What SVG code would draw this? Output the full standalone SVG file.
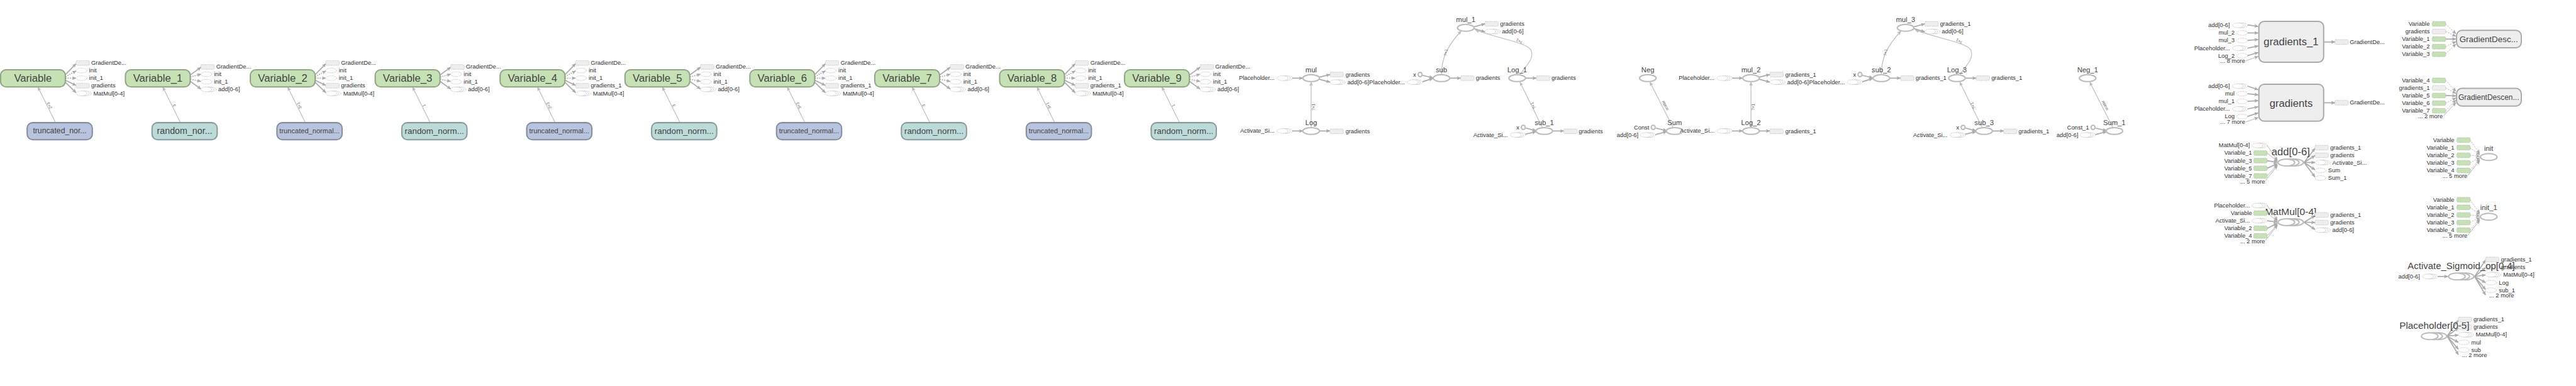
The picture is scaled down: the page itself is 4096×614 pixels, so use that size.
<svg xmlns="http://www.w3.org/2000/svg" width="4096" height="614" viewBox="0 0 4096 614">
<style>
text{font-family:"Liberation Sans",Arial,sans-serif;fill:#444;dominant-baseline:central}
.s{font-size:16.3px;fill:#333}
.e{text-anchor:end}
.c{text-anchor:middle}
.big{font-size:29px}
.op{font-size:19.5px}
.lab{font-size:11px;fill:#666;text-anchor:middle}
.var{fill:#c6e2b5;stroke:#8fa583;stroke-width:3.5}
.tr{fill:#b8c4dd;stroke:#848c9e;stroke-width:3.5}
.rn{fill:#bbdad8;stroke:#869b9a;stroke-width:3.5}
.gr{fill:#eee;stroke:#aaa;stroke-width:3.5}
.o{fill:#fff;stroke:#bbb;stroke-width:3.5}
.an{stroke:#bbb;stroke-width:1.5;stroke-dasharray:2.5 2}
.anw{fill:#fff}
.ang{fill:#eee}
.ang2{fill:#c6e2b5;stroke:#9fb79a}
.k{fill:none;stroke:#aaa;stroke-width:3;marker-end:url(#arrow)}
.d{stroke-dasharray:3 3}
.t{fill:none;stroke:#bbb;stroke-width:2;marker-end:url(#arrow2)}
.n{fill:none;stroke:#aaa;stroke-width:1.5;marker-end:url(#arrow)}
.ds{stroke-width:1.5;stroke-dasharray:4 3}
</style>
<defs>
<marker id="arrow" viewBox="0 0 12 10" refX="10.5" refY="5" markerWidth="12" markerHeight="10" markerUnits="userSpaceOnUse" orient="auto"><path d="M0,0 L12,5 L0,10 L2.5,5 z" fill="#aaa"/></marker>
<marker id="arrow2" viewBox="0 0 12 10" refX="10.5" refY="5" markerWidth="12" markerHeight="10" markerUnits="userSpaceOnUse" orient="auto"><path d="M0,0 L12,5 L0,10 L2.5,5 z" fill="#bbb"/></marker>
<rect id="a-rect" class="an ang" x="0" y="-6.5" width="37" height="13" rx="3"/>
<rect id="a-green" class="an ang2" x="0" y="-6.5" width="37" height="13" rx="3"/>
<ellipse id="a-ell" class="an anw" cx="15" cy="0" rx="15" ry="6.5"/>
<g id="a-ser"><ellipse class="an anw" cx="27" cy="0" rx="15" ry="6.5"/><ellipse class="an anw" cx="21" cy="0" rx="15" ry="6.5"/><ellipse class="an anw" cx="15" cy="0" rx="15" ry="6.5"/></g>
<ellipse id="op" class="o" cx="0" cy="0" rx="23" ry="9.5"/>
<ellipse id="op-c" class="o" cx="0" cy="0" rx="5.5" ry="6"/>
<g id="op-s"><ellipse class="o" cx="24" cy="0" rx="23" ry="9.5"/><ellipse class="o" cx="12" cy="0" rx="23" ry="9.5"/><ellipse class="o" cx="0" cy="0" rx="23" ry="9.5"/></g>
</defs>
<g transform="scale(0.5756)">
<g id="connectors">
<g transform="translate(0 0)"><path class="k" d="M181,206L210,176"/><path class="k d" d="M181,212L210,196"/><path class="k d" d="M181,216L210,216"/><path class="k" d="M181,222L210,236"/><path class="k" d="M181,228L210,256"/><path class="t" d="M153,338L105,241"/><text class="lab" transform="translate(136 292) rotate(-116)">2×3</text></g>
<g transform="translate(345 0)"><path class="k" d="M181,207L210,186"/><path class="k d" d="M181,213L210,205"/><path class="k d" d="M181,219L210,225"/><path class="k" d="M181,225L210,246"/><path class="t" d="M153,338L105,241"/><text class="lab" transform="translate(136 292) rotate(-116)">3</text></g>
<g transform="translate(690 0)"><path class="k" d="M181,206L210,176"/><path class="k d" d="M181,212L210,196"/><path class="k d" d="M181,216L210,216"/><path class="k" d="M181,222L210,236"/><path class="k" d="M181,228L210,256"/><path class="t" d="M153,338L105,241"/><text class="lab" transform="translate(136 292) rotate(-116)">3×1</text></g>
<g transform="translate(1035 0)"><path class="k" d="M181,207L210,186"/><path class="k d" d="M181,213L210,205"/><path class="k d" d="M181,219L210,225"/><path class="k" d="M181,225L210,246"/><path class="t" d="M153,338L105,241"/><text class="lab" transform="translate(136 292) rotate(-116)">1</text></g>
<g transform="translate(1380 0)"><path class="k" d="M181,206L210,176"/><path class="k d" d="M181,212L210,196"/><path class="k d" d="M181,216L210,216"/><path class="k" d="M181,222L210,236"/><path class="k" d="M181,228L210,256"/><path class="t" d="M153,338L105,241"/><text class="lab" transform="translate(136 292) rotate(-116)">2×3</text></g>
<g transform="translate(1725 0)"><path class="k" d="M181,207L210,186"/><path class="k d" d="M181,213L210,205"/><path class="k d" d="M181,219L210,225"/><path class="k" d="M181,225L210,246"/><path class="t" d="M153,338L105,241"/><text class="lab" transform="translate(136 292) rotate(-116)">3</text></g>
<g transform="translate(2070 0)"><path class="k" d="M181,206L210,176"/><path class="k d" d="M181,212L210,196"/><path class="k d" d="M181,216L210,216"/><path class="k" d="M181,222L210,236"/><path class="k" d="M181,228L210,256"/><path class="t" d="M153,338L105,241"/><text class="lab" transform="translate(136 292) rotate(-116)">3×3</text></g>
<g transform="translate(2415 0)"><path class="k" d="M181,207L210,186"/><path class="k d" d="M181,213L210,205"/><path class="k d" d="M181,219L210,225"/><path class="k" d="M181,225L210,246"/><path class="t" d="M153,338L105,241"/><text class="lab" transform="translate(136 292) rotate(-116)">3</text></g>
<g transform="translate(2760 0)"><path class="k" d="M181,206L210,176"/><path class="k d" d="M181,212L210,196"/><path class="k d" d="M181,216L210,216"/><path class="k" d="M181,222L210,236"/><path class="k" d="M181,228L210,256"/><path class="t" d="M153,338L105,241"/><text class="lab" transform="translate(136 292) rotate(-116)">3×1</text></g>
<g transform="translate(3105 0)"><path class="k" d="M181,207L210,186"/><path class="k d" d="M181,213L210,205"/><path class="k d" d="M181,219L210,225"/><path class="k" d="M181,225L210,246"/><path class="t" d="M153,338L105,241"/><text class="lab" transform="translate(136 292) rotate(-116)">1</text></g>
<g>
<path class="k" d="M3569,216L3599,216"/><path class="k" d="M3645,213L3674,206"/><path class="k" d="M3645,219L3674,227"/><path class="k" d="M3569,362L3599,362"/><path class="k" d="M3645,362L3674,362"/><path class="t" d="M3622,352L3622,227"/><text class="lab" transform="translate(3628 296) rotate(-90)">?×1</text>
<path class="k" d="M3929,208L3958,215"/><path class="k" d="M3929,226L3958,217"/><path class="k" d="M4006,216L4035,216"/><path class="k" d="M4072,74L4102,66"/><path class="k" d="M4072,79L4102,88"/>
<path class="t" d="M3982,206C3982,165 3995,130 4036,86"/><text class="lab" transform="translate(3993 145) rotate(-80)">?×1</text>
<path class="t" d="M4200,206C4215,180 4238,165 4230,140C4222,118 4150,110 4076,83"/><text class="lab" transform="translate(4197 114) rotate(-153)">?×1</text>
<path class="k" d="M4214,216L4244,216"/><path class="k" d="M4215,354L4243,361"/><path class="k" d="M4213,371L4243,364"/><path class="k" d="M4290,362L4320,362"/><path class="t" d="M4261,353L4199,227"/><text class="lab" transform="translate(4235 292) rotate(-116)">?×1</text>
<path class="k" d="M4574,354L4604,361"/><path class="k" d="M4573,372L4604,364"/><path class="t" d="M4622,353L4558,227"/><text class="lab" transform="translate(4599 292) rotate(-116)">scalar</text>
</g>
<g transform="translate(1215 0)">
<path class="k" d="M3569,216L3599,216"/><path class="k" d="M3645,213L3674,206"/><path class="k" d="M3645,219L3674,227"/><path class="k" d="M3569,362L3599,362"/><path class="k" d="M3645,362L3674,362"/><path class="t" d="M3622,352L3622,227"/><text class="lab" transform="translate(3628 296) rotate(-90)">?×1</text>
<path class="k" d="M3929,208L3958,215"/><path class="k" d="M3929,226L3958,217"/><path class="k" d="M4006,216L4035,216"/><path class="k" d="M4072,74L4102,66"/><path class="k" d="M4072,79L4102,88"/>
<path class="t" d="M3982,206C3982,165 3995,130 4036,86"/><text class="lab" transform="translate(3993 145) rotate(-80)">?×1</text>
<path class="t" d="M4200,206C4215,180 4238,165 4230,140C4222,118 4150,110 4076,83"/><text class="lab" transform="translate(4197 114) rotate(-153)">?×1</text>
<path class="k" d="M4214,216L4244,216"/><path class="k" d="M4215,354L4243,361"/><path class="k" d="M4213,371L4243,364"/><path class="k" d="M4290,362L4320,362"/><path class="t" d="M4261,353L4199,227"/><text class="lab" transform="translate(4235 292) rotate(-116)">?×1</text>
<path class="k" d="M4574,354L4604,361"/><path class="k" d="M4573,372L4604,364"/><path class="t" d="M4622,353L4558,227"/><text class="lab" transform="translate(4599 292) rotate(-116)">scalar</text>
</g>
<g>
<path class="k" d="M6209,69L6238,73"/><path class="k" d="M6209,91L6238,91"/><path class="k" d="M6209,112L6238,109"/><path class="k" d="M6209,133L6238,127"/><path class="k" d="M6208,154L6238,145"/><path class="n" d="M6204,168L6238,156"/><path class="k" d="M6419,116L6450,116"/>
<path class="k" d="M6209,238L6238,248"/><path class="k" d="M6209,259L6238,262"/><path class="k" d="M6209,280L6238,278"/><path class="k" d="M6209,301L6238,295"/><path class="k" d="M6208,322L6238,312"/><path class="n" d="M6204,337L6238,325"/><path class="k" d="M6419,284L6450,284"/>
<path class="k ds" d="M6756,66L6784,93"/><path class="k ds" d="M6756,87L6784,100"/><path class="k" d="M6756,108L6784,108"/><path class="k ds" d="M6756,129L6784,115"/><path class="k ds" d="M6756,149L6784,122"/>
<path class="k ds" d="M6756,222L6784,252"/><path class="k ds" d="M6756,243L6784,258"/><path class="k" d="M6756,264L6784,265"/><path class="k ds" d="M6756,285L6784,271"/><path class="k ds" d="M6756,306L6784,277"/><path class="n" d="M6750,320L6784,284"/>
<path class="n" d="M6263,402L6291,443"/><path class="n" d="M6263,423L6291,446"/><path class="k" d="M6263,444L6291,449"/><path class="k" d="M6263,465L6291,452"/><path class="n" d="M6263,486L6291,455"/><path class="n" d="M6258,500L6291,458"/>
<path class="k" d="M6365,449L6395,410"/><path class="k" d="M6365,449L6395,430"/><path class="k" d="M6365,449L6395,449"/><path class="k" d="M6365,449L6395,469"/><path class="k" d="M6365,449L6395,489"/>
<path class="n" d="M6263,568L6291,608"/><path class="n" d="M6263,589L6291,611"/><path class="k" d="M6263,610L6291,614"/><path class="k" d="M6263,631L6291,617"/><path class="n" d="M6263,652L6291,620"/><path class="n" d="M6258,665L6291,623"/>
<path class="k" d="M6365,614L6395,596"/><path class="k" d="M6365,614L6395,615"/><path class="k" d="M6365,614L6395,634"/>
<path class="k ds" d="M6823,387L6850,424"/><path class="k ds" d="M6823,408L6850,428"/><path class="k ds" d="M6823,429L6850,432"/><path class="k ds" d="M6823,450L6850,436"/><path class="k ds" d="M6823,471L6850,440"/><path class="n" d="M6817,485L6850,444"/>
<path class="k ds" d="M6823,552L6850,589"/><path class="k ds" d="M6823,573L6850,593"/><path class="k ds" d="M6823,594L6850,597"/><path class="k ds" d="M6823,615L6850,601"/><path class="k ds" d="M6823,636L6850,605"/><path class="n" d="M6817,650L6850,609"/>
<path class="k" d="M6734,764L6762,764"/>
<path class="k" d="M6836,764L6866,719"/><path class="k" d="M6836,764L6866,740"/><path class="k" d="M6836,764L6866,760"/><path class="k" d="M6836,764L6866,781"/><path class="k" d="M6836,764L6866,800"/><path class="k" d="M6836,764L6866,815"/>
<path class="k" d="M6760,929L6791,885"/><path class="k" d="M6760,929L6791,906"/><path class="k" d="M6760,929L6791,926"/><path class="k" d="M6760,929L6791,946"/><path class="k" d="M6760,929L6791,965"/><path class="k" d="M6760,929L6791,980"/>
</g>
</g>
<g id="Variable" transform="translate(0 0)"><rect class="var" x="1.5" y="193" width="179" height="47" rx="15"/><text class="big c" x="91" y="216">Variable</text><use href="#a-rect" x="210" y="174"/><text class="s" x="252" y="174">GradientDe...</text><use href="#a-ell" x="210" y="195"/><text class="s" x="246" y="195">init</text><use href="#a-ell" x="210" y="216"/><text class="s" x="246" y="216">init_1</text><use href="#a-rect" x="210" y="237"/><text class="s" x="252" y="237">gradients</text><use href="#a-ser" x="210" y="258"/><text class="s" x="258" y="258">MatMul[0-4]</text></g>
<g id="Variable_1" transform="translate(345 0)"><rect class="var" x="1.5" y="193" width="179" height="47" rx="15"/><text class="big c" x="91" y="216">Variable_1</text><use href="#a-rect" x="210" y="185"/><text class="s" x="252" y="185">GradientDe...</text><use href="#a-ell" x="210" y="205"/><text class="s" x="246" y="205">init</text><use href="#a-ell" x="210" y="226"/><text class="s" x="246" y="226">init_1</text><use href="#a-ser" x="210" y="247"/><text class="s" x="258" y="247">add[0-6]</text></g>
<g id="Variable_2" transform="translate(690 0)"><rect class="var" x="1.5" y="193" width="179" height="47" rx="15"/><text class="big c" x="91" y="216">Variable_2</text><use href="#a-rect" x="210" y="174"/><text class="s" x="252" y="174">GradientDe...</text><use href="#a-ell" x="210" y="195"/><text class="s" x="246" y="195">init</text><use href="#a-ell" x="210" y="216"/><text class="s" x="246" y="216">init_1</text><use href="#a-rect" x="210" y="237"/><text class="s" x="252" y="237">gradients</text><use href="#a-ser" x="210" y="258"/><text class="s" x="258" y="258">MatMul[0-4]</text></g>
<g id="Variable_3" transform="translate(1035 0)"><rect class="var" x="1.5" y="193" width="179" height="47" rx="15"/><text class="big c" x="91" y="216">Variable_3</text><use href="#a-rect" x="210" y="185"/><text class="s" x="252" y="185">GradientDe...</text><use href="#a-ell" x="210" y="205"/><text class="s" x="246" y="205">init</text><use href="#a-ell" x="210" y="226"/><text class="s" x="246" y="226">init_1</text><use href="#a-ser" x="210" y="247"/><text class="s" x="258" y="247">add[0-6]</text></g>
<g id="Variable_4" transform="translate(1380 0)"><rect class="var" x="1.5" y="193" width="179" height="47" rx="15"/><text class="big c" x="91" y="216">Variable_4</text><use href="#a-rect" x="210" y="174"/><text class="s" x="252" y="174">GradientDe...</text><use href="#a-ell" x="210" y="195"/><text class="s" x="246" y="195">init</text><use href="#a-ell" x="210" y="216"/><text class="s" x="246" y="216">init_1</text><use href="#a-rect" x="210" y="237"/><text class="s" x="252" y="237">gradients_1</text><use href="#a-ser" x="210" y="258"/><text class="s" x="258" y="258">MatMul[0-4]</text></g>
<g id="Variable_5" transform="translate(1725 0)"><rect class="var" x="1.5" y="193" width="179" height="47" rx="15"/><text class="big c" x="91" y="216">Variable_5</text><use href="#a-rect" x="210" y="185"/><text class="s" x="252" y="185">GradientDe...</text><use href="#a-ell" x="210" y="205"/><text class="s" x="246" y="205">init</text><use href="#a-ell" x="210" y="226"/><text class="s" x="246" y="226">init_1</text><use href="#a-ser" x="210" y="247"/><text class="s" x="258" y="247">add[0-6]</text></g>
<g id="Variable_6" transform="translate(2070 0)"><rect class="var" x="1.5" y="193" width="179" height="47" rx="15"/><text class="big c" x="91" y="216">Variable_6</text><use href="#a-rect" x="210" y="174"/><text class="s" x="252" y="174">GradientDe...</text><use href="#a-ell" x="210" y="195"/><text class="s" x="246" y="195">init</text><use href="#a-ell" x="210" y="216"/><text class="s" x="246" y="216">init_1</text><use href="#a-rect" x="210" y="237"/><text class="s" x="252" y="237">gradients_1</text><use href="#a-ser" x="210" y="258"/><text class="s" x="258" y="258">MatMul[0-4]</text></g>
<g id="Variable_7" transform="translate(2415 0)"><rect class="var" x="1.5" y="193" width="179" height="47" rx="15"/><text class="big c" x="91" y="216">Variable_7</text><use href="#a-rect" x="210" y="185"/><text class="s" x="252" y="185">GradientDe...</text><use href="#a-ell" x="210" y="205"/><text class="s" x="246" y="205">init</text><use href="#a-ell" x="210" y="226"/><text class="s" x="246" y="226">init_1</text><use href="#a-ser" x="210" y="247"/><text class="s" x="258" y="247">add[0-6]</text></g>
<g id="Variable_8" transform="translate(2760 0)"><rect class="var" x="1.5" y="193" width="179" height="47" rx="15"/><text class="big c" x="91" y="216">Variable_8</text><use href="#a-rect" x="210" y="174"/><text class="s" x="252" y="174">GradientDe...</text><use href="#a-ell" x="210" y="195"/><text class="s" x="246" y="195">init</text><use href="#a-ell" x="210" y="216"/><text class="s" x="246" y="216">init_1</text><use href="#a-rect" x="210" y="237"/><text class="s" x="252" y="237">gradients_1</text><use href="#a-ser" x="210" y="258"/><text class="s" x="258" y="258">MatMul[0-4]</text></g>
<g id="Variable_9" transform="translate(3105 0)"><rect class="var" x="1.5" y="193" width="179" height="47" rx="15"/><text class="big c" x="91" y="216">Variable_9</text><use href="#a-rect" x="210" y="185"/><text class="s" x="252" y="185">GradientDe...</text><use href="#a-ell" x="210" y="205"/><text class="s" x="246" y="205">init</text><use href="#a-ell" x="210" y="226"/><text class="s" x="246" y="226">init_1</text><use href="#a-ser" x="210" y="247"/><text class="s" x="258" y="247">add[0-6]</text></g>
<g id="truncated_normal"><rect class="tr" x="75" y="339" width="180" height="47" rx="15"/><text class="c" style="font-size:21.3px" x="165" y="362">truncated_nor...</text></g>
<g id="random_normal"><rect class="rn" x="420" y="339" width="180" height="47" rx="15"/><text class="c" style="font-size:24.8px" x="510" y="362">random_nor...</text></g>
<g id="truncated_normal_1"><rect class="tr" x="765" y="339" width="180" height="47" rx="15"/><text class="c" style="font-size:19.3px" x="855" y="362">truncated_normal...</text></g>
<g id="random_normal_1"><rect class="rn" x="1110" y="339" width="180" height="47" rx="15"/><text class="c" style="font-size:23.2px" x="1200" y="362">random_norm...</text></g>
<g id="truncated_normal_2"><rect class="tr" x="1455" y="339" width="180" height="47" rx="15"/><text class="c" style="font-size:19.3px" x="1545" y="362">truncated_normal...</text></g>
<g id="random_normal_2"><rect class="rn" x="1800" y="339" width="180" height="47" rx="15"/><text class="c" style="font-size:23.2px" x="1890" y="362">random_norm...</text></g>
<g id="truncated_normal_3"><rect class="tr" x="2145" y="339" width="180" height="47" rx="15"/><text class="c" style="font-size:19.3px" x="2235" y="362">truncated_normal...</text></g>
<g id="random_normal_3"><rect class="rn" x="2490" y="339" width="180" height="47" rx="15"/><text class="c" style="font-size:23.2px" x="2580" y="362">random_norm...</text></g>
<g id="truncated_normal_4"><rect class="tr" x="2835" y="339" width="180" height="47" rx="15"/><text class="c" style="font-size:19.3px" x="2925" y="362">truncated_normal...</text></g>
<g id="random_normal_4"><rect class="rn" x="3180" y="339" width="180" height="47" rx="15"/><text class="c" style="font-size:23.2px" x="3270" y="362">random_norm...</text></g>
<g id="mul"><use href="#op" x="3622" y="216"/><text class="op c" x="3622" y="192">mul</text><text class="s e" x="3521" y="216">Placeholder...</text><use href="#a-ser" x="3528" y="216"/><use href="#a-rect" x="3674" y="206"/><text class="s" x="3717" y="206">gradients</text><use href="#a-ser" x="3674" y="227"/><text class="s" x="3722" y="227">add[0-6]</text></g>
<g id="Log"><use href="#op" x="3622" y="362"/><text class="op c" x="3622" y="339">Log</text><text class="s e" x="3521" y="362">Activate_Si...</text><use href="#a-ser" x="3528" y="362"/><use href="#a-rect" x="3674" y="363"/><text class="s" x="3717" y="363">gradients</text></g>
<g id="sub"><use href="#op" x="3982" y="216"/><text class="op c" x="3982" y="192">sub</text><use href="#op-c" x="3923" y="206"/><text class="s e" x="3912" y="206">x</text><text class="s e" x="3881" y="227">Placeholder...</text><use href="#a-ser" x="3888" y="227"/><use href="#a-rect" x="4035" y="216"/><text class="s" x="4077" y="216">gradients</text></g>
<g id="mul_1"><use href="#op" x="4049" y="77"/><text class="op c" x="4049" y="53">mul_1</text><use href="#a-rect" x="4102" y="66"/><text class="s" x="4144" y="66">gradients</text><use href="#a-ser" x="4102" y="87"/><text class="s" x="4149" y="87">add[0-6]</text></g>
<g id="Log_1"><use href="#op" x="4191" y="216"/><text class="op c" x="4191" y="192">Log_1</text><use href="#a-rect" x="4244" y="216"/><text class="s" x="4286" y="216">gradients</text></g>
<g id="sub_1"><use href="#op" x="4266" y="362"/><text class="op c" x="4266" y="339">sub_1</text><use href="#op-c" x="4208" y="352"/><text class="s e" x="4197" y="352">x</text><text class="s e" x="4165" y="373">Activate_Si...</text><use href="#a-ser" x="4172" y="373"/><use href="#a-rect" x="4320" y="363"/><text class="s" x="4361" y="363">gradients</text></g>
<g id="Neg"><use href="#op" x="4552" y="216"/><text class="op c" x="4552" y="192">Neg</text></g>
<g id="Sum"><use href="#op" x="4626" y="362"/><text class="op c" x="4626" y="339">Sum</text><use href="#op-c" x="4567" y="352"/><text class="s e" x="4556" y="352">Const</text><text class="s e" x="4526" y="373">add[0-6]</text><use href="#a-ser" x="4531" y="373"/></g>
<g id="mul_2"><use href="#op" x="4837" y="216"/><text class="op c" x="4837" y="192">mul_2</text><text class="s e" x="4736" y="216">Placeholder...</text><use href="#a-ser" x="4743" y="216"/><use href="#a-rect" x="4889" y="206"/><text class="s" x="4932" y="206">gradients_1</text><use href="#a-ser" x="4889" y="227"/><text class="s" x="4937" y="227">add[0-6]</text></g>
<g id="Log_2"><use href="#op" x="4837" y="362"/><text class="op c" x="4837" y="339">Log_2</text><text class="s e" x="4736" y="362">Activate_Si...</text><use href="#a-ser" x="4743" y="362"/><use href="#a-rect" x="4889" y="363"/><text class="s" x="4932" y="363">gradients_1</text></g>
<g id="sub_2"><use href="#op" x="5197" y="216"/><text class="op c" x="5197" y="192">sub_2</text><use href="#op-c" x="5138" y="206"/><text class="s e" x="5127" y="206">x</text><text class="s e" x="5096" y="227">Placeholder...</text><use href="#a-ser" x="5103" y="227"/><use href="#a-rect" x="5250" y="216"/><text class="s" x="5292" y="216">gradients_1</text></g>
<g id="mul_3"><use href="#op" x="5264" y="77"/><text class="op c" x="5264" y="53">mul_3</text><use href="#a-rect" x="5317" y="66"/><text class="s" x="5359" y="66">gradients_1</text><use href="#a-ser" x="5317" y="87"/><text class="s" x="5364" y="87">add[0-6]</text></g>
<g id="Log_3"><use href="#op" x="5406" y="216"/><text class="op c" x="5406" y="192">Log_3</text><use href="#a-rect" x="5459" y="216"/><text class="s" x="5501" y="216">gradients_1</text></g>
<g id="sub_3"><use href="#op" x="5481" y="362"/><text class="op c" x="5481" y="339">sub_3</text><use href="#op-c" x="5423" y="352"/><text class="s e" x="5412" y="352">x</text><text class="s e" x="5380" y="373">Activate_Si...</text><use href="#a-ser" x="5387" y="373"/><use href="#a-rect" x="5535" y="363"/><text class="s" x="5576" y="363">gradients_1</text></g>
<g id="Neg_1"><use href="#op" x="5767" y="216"/><text class="op c" x="5767" y="192">Neg_1</text></g>
<g id="Sum_1"><use href="#op" x="5841" y="362"/><text class="op c" x="5841" y="339">Sum_1</text><use href="#op-c" x="5782" y="352"/><text class="s e" x="5771" y="352">Const_1</text><text class="s e" x="5741" y="373">add[0-6]</text><use href="#a-ser" x="5746" y="373"/></g>
<g id="gradients_1"><rect class="gr" x="6240" y="59" width="179" height="113" rx="15"/><text class="big c" x="6329" y="116">gradients_1</text>
<text class="s e" x="6160" y="70">add[0-6]</text><use href="#a-ser" x="6167" y="70"/><text class="s e" x="6173" y="91">mul_2</text><use href="#a-ell" x="6179" y="91"/><text class="s e" x="6173" y="112">mul_3</text><use href="#a-ell" x="6179" y="112"/><text class="s e" x="6160" y="133">Placeholder...</text><use href="#a-ser" x="6167" y="133"/><text class="s e" x="6173" y="154">Log_2</text><use href="#a-ell" x="6179" y="154"/><text class="s e" x="6202" y="169">... 8 more</text>
<use href="#a-rect" x="6450" y="116"/><text class="s" x="6491" y="116">GradientDe...</text></g>
<g id="gradients"><rect class="gr" x="6240" y="233" width="179" height="102" rx="15"/><text class="big c" x="6329" y="285">gradients</text>
<text class="s e" x="6160" y="238">add[0-6]</text><use href="#a-ser" x="6167" y="238"/><text class="s e" x="6173" y="259">mul</text><use href="#a-ell" x="6179" y="259"/><text class="s e" x="6173" y="280">mul_1</text><use href="#a-ell" x="6179" y="280"/><text class="s e" x="6160" y="301">Placeholder...</text><use href="#a-ser" x="6167" y="301"/><text class="s e" x="6173" y="322">Log</text><use href="#a-ell" x="6179" y="322"/><text class="s e" x="6202" y="337">... 7 more</text>
<use href="#a-rect" x="6450" y="284"/><text class="s" x="6491" y="284">GradientDe...</text></g>
<g id="GradientDescent"><rect class="gr" x="6786" y="84" width="179" height="48" rx="15"/><text class="c" style="font-size:23.3px" x="6875" y="108">GradientDesc...</text>
<text class="s e" x="6712" y="66">Variable</text><use href="#a-green" x="6719" y="66"/><text class="s e" x="6712" y="87">gradients</text><use href="#a-rect" x="6719" y="87"/><text class="s e" x="6712" y="108">Variable_1</text><use href="#a-green" x="6719" y="108"/><text class="s e" x="6712" y="129">Variable_2</text><use href="#a-green" x="6719" y="129"/><text class="s e" x="6712" y="150">Variable_3</text><use href="#a-green" x="6719" y="150"/></g>
<g id="GradientDescent_1"><rect class="gr" x="6786" y="244" width="179" height="49" rx="15"/><text class="c" style="font-size:20.8px" x="6875" y="269">GradientDescen...</text>
<text class="s e" x="6712" y="222">Variable_4</text><use href="#a-green" x="6719" y="222"/><text class="s e" x="6712" y="243">gradients_1</text><use href="#a-rect" x="6719" y="243"/><text class="s e" x="6712" y="264">Variable_5</text><use href="#a-green" x="6719" y="264"/><text class="s e" x="6712" y="285">Variable_6</text><use href="#a-green" x="6719" y="285"/><text class="s e" x="6712" y="306">Variable_7</text><use href="#a-green" x="6719" y="306"/><text class="s e" x="6748" y="322">... 2 more</text></g>
<g id="add_0-6"><use href="#op-s" x="6316" y="449"/><text class="big c" x="6328" y="419">add[0-6]</text>
<text class="s e" x="6215" y="402">MatMul[0-4]</text><use href="#a-ser" x="6221" y="402"/><text class="s e" x="6221" y="423">Variable_1</text><use href="#a-green" x="6226" y="423"/><text class="s e" x="6221" y="444">Variable_3</text><use href="#a-green" x="6226" y="444"/><text class="s e" x="6221" y="465">Variable_5</text><use href="#a-green" x="6226" y="465"/><text class="s e" x="6221" y="486">Variable_7</text><use href="#a-green" x="6226" y="486"/><text class="s e" x="6257" y="502">... 5 more</text>
<use href="#a-rect" x="6395" y="408"/><text class="s" x="6437" y="408">gradients_1</text><use href="#a-rect" x="6395" y="429"/><text class="s" x="6437" y="429">gradients</text><use href="#a-ser" x="6395" y="449"/><text class="s" x="6443" y="450">Activate_Si...</text><use href="#a-ell" x="6395" y="471"/><text class="s" x="6431" y="471">Sum</text><use href="#a-ell" x="6395" y="492"/><text class="s" x="6431" y="492">Sum_1</text></g>
<g id="MatMul_0-4"><use href="#op-s" x="6316" y="614"/><text class="c" style="font-size:27px" x="6328" y="584">MatMul[0-4]</text>
<text class="s e" x="6215" y="568">Placeholder...</text><use href="#a-ser" x="6221" y="568"/><text class="s e" x="6221" y="589">Variable</text><use href="#a-green" x="6226" y="589"/><text class="s e" x="6215" y="610">Activate_Si...</text><use href="#a-ser" x="6221" y="610"/><text class="s e" x="6221" y="631">Variable_2</text><use href="#a-green" x="6226" y="631"/><text class="s e" x="6221" y="652">Variable_4</text><use href="#a-green" x="6226" y="652"/><text class="s e" x="6257" y="667">... 2 more</text>
<use href="#a-rect" x="6395" y="594"/><text class="s" x="6437" y="594">gradients_1</text><use href="#a-rect" x="6395" y="615"/><text class="s" x="6437" y="615">gradients</text><use href="#a-ser" x="6395" y="636"/><text class="s" x="6443" y="636">add[0-6]</text></g>
<g id="init"><use href="#op" x="6875" y="434"/><text class="op c" x="6875" y="410">init</text>
<text class="s e" x="6780" y="387">Variable</text><use href="#a-green" x="6787" y="387"/><text class="s e" x="6780" y="408">Variable_1</text><use href="#a-green" x="6787" y="408"/><text class="s e" x="6780" y="429">Variable_2</text><use href="#a-green" x="6787" y="429"/><text class="s e" x="6780" y="450">Variable_3</text><use href="#a-green" x="6787" y="450"/><text class="s e" x="6780" y="471">Variable_4</text><use href="#a-green" x="6787" y="471"/><text class="s e" x="6816" y="487">... 5 more</text></g>
<g id="init_1"><use href="#op" x="6875" y="599"/><text class="op c" x="6875" y="574">init_1</text>
<text class="s e" x="6780" y="552">Variable</text><use href="#a-green" x="6787" y="552"/><text class="s e" x="6780" y="573">Variable_1</text><use href="#a-green" x="6787" y="573"/><text class="s e" x="6780" y="594">Variable_2</text><use href="#a-green" x="6787" y="594"/><text class="s e" x="6780" y="615">Variable_3</text><use href="#a-green" x="6787" y="615"/><text class="s e" x="6780" y="636">Variable_4</text><use href="#a-green" x="6787" y="636"/><text class="s e" x="6816" y="652">... 5 more</text></g>
<g id="Activate_Sigmoid_op"><use href="#op-s" x="6787" y="764"/>
<text class="s e" x="6685" y="764">add[0-6]</text><use href="#a-ser" x="6692" y="764"/>
<use href="#a-rect" x="6866" y="717"/><use href="#a-rect" x="6866" y="738"/><text class="s" x="6909" y="717">gradients_1</text><text class="s" x="6909" y="738">gradients</text><use href="#a-ser" x="6866" y="759"/><text class="s" x="6915" y="759">MatMul[0-4]</text><use href="#a-ell" x="6866" y="781"/><text class="s" x="6903" y="781">Log</text><use href="#a-ell" x="6866" y="802"/><text class="s" x="6903" y="802">sub_1</text><text class="s e" x="6945" y="817">... 2 more</text>
<text class="c" style="font-size:26px" x="6799" y="734">Activate_Sigmoid_op[0-4]</text></g>
<g id="Placeholder_0-5"><use href="#op-s" x="6712" y="929"/>
<use href="#a-rect" x="6791" y="883"/><use href="#a-rect" x="6791" y="904"/><text class="s" x="6833" y="883">gradients_1</text><text class="s" x="6833" y="904">gradients</text><use href="#a-ser" x="6791" y="925"/><text class="s" x="6839" y="925">MatMul[0-4]</text><use href="#a-ell" x="6791" y="946"/><text class="s" x="6827" y="946">mul</text><use href="#a-ell" x="6791" y="967"/><text class="s" x="6827" y="967">sub</text><text class="s e" x="6870" y="982">... 2 more</text>
<text class="c" style="font-size:26.6px" x="6725" y="899">Placeholder[0-5]</text></g>
</g>
</svg>
